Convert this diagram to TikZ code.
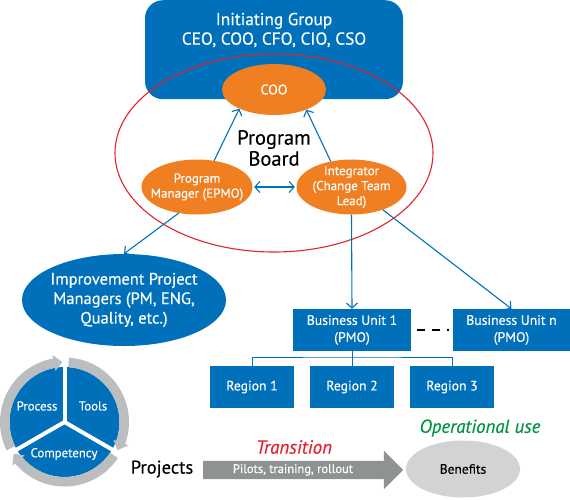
\documentclass[tikz,border=0pt]{standalone}
\usepackage{fontspec}
\setmainfont{PT Sans}[RawFeature={embolden=0.35}]
\usetikzlibrary{arrows.meta, shapes.geometric, shapes.arrows}
\definecolor{boxBlue}{RGB}{0,112,186}
\definecolor{ovalOrange}{RGB}{240,127,34}
\definecolor{boardRed}{RGB}{226,35,46}
\definecolor{ringGrey}{RGB}{187,189,191}
\definecolor{arrowGrey}{RGB}{142,146,147}
\definecolor{benefitGrey}{RGB}{209,211,212}
\definecolor{useGreen}{RGB}{0,148,68}
\tikzset{
    bluebox/.style={
        draw=none, fill=boxBlue, text=white, align=center, inner sep=0pt,
        font=\fontsize{13.7}{17}\selectfont
    },
    orangeoval/.style={
        ellipse, fill=ovalOrange, text=white, align=center, inner xsep=-12pt, inner ysep=-6pt,
        font=\fontsize{13}{15}\selectfont
    },
    biglabel/.style={align=center, text=black, font=\fontsize{20.5}{21}\selectfont},
    segment/.style={text=white, font=\fontsize{12.8}{14}\selectfont},
    flow/.style={-{Straight Barb[length=5pt,width=11pt]}, line width=1.1pt, draw=boxBlue},
    twoway/.style={{Straight Barb[length=5pt,width=11pt]}-{Straight Barb[length=5pt,width=11pt]}, line width=1.1pt, draw=boxBlue},
    tree/.style={line width=0.7pt, draw=boxBlue}
}
\begin{document}
\begin{tikzpicture}[x=1pt, y=-1pt]
      \useasboundingbox (0,0) rectangle (570,499);
      \node[bluebox, rounded corners=18pt, minimum width=258pt, minimum height=99pt, anchor=north] (IG) at (274,0) {};
      \node[text=white, align=center, font=\fontsize{17.3}{19.5}\selectfont] (IGtext) at (274,30) {Initiating Group\\CEO, COO, CFO, CIO, CSO};
      \node[ellipse, draw=boardRed, line width=1.1pt, minimum width=318pt, minimum height=198pt, inner sep=0pt] (PB) at (274,153) {};
      \node[orangeoval, minimum width=104pt, minimum height=51pt, font=\fontsize{14}{15}\selectfont] (COO) at (274,89.5) {COO};
      \node[biglabel] (PBtext) at (274,148) {Program\\Board};
      \node[orangeoval, minimum width=111pt, minimum height=55pt] (PM) at (197,187) {Program\\Manager (EPMO)};
      \node[orangeoval, minimum width=110pt, minimum height=55pt] (INT) at (351.5,187) {Integrator\\(Change Team\\Lead)};
      \node[bluebox, ellipse, inner xsep=-6pt, inner ysep=-6pt, minimum width=204pt, minimum height=92pt, font=\fontsize{16.5}{19.5}\selectfont] (IPM) at (124,300) {Improvement Project\\Managers (PM, ENG,\\Quality, etc.)};
      \node[bluebox, minimum width=118pt, minimum height=42pt] (BU1) at (352,330) {Business Unit 1\\(PMO)};
      \node[bluebox, minimum width=117pt, minimum height=42pt] (BUn) at (511.5,330) {Business Unit n\\(PMO)};
      \node[bluebox, minimum width=84pt, minimum height=42pt] (R1) at (252,387) {Region 1};
      \node[bluebox, minimum width=84pt, minimum height=42pt] (R2) at (352,387) {Region 2};
      \node[bluebox, minimum width=84pt, minimum height=42pt] (R3) at (452,387) {Region 3};
      \draw[flow] (PM.57) -- (COO.209);
      \draw[flow] (INT.129) -- (COO.328);
      \draw[twoway, shorten <=1.5pt, shorten >=1.5pt] (PM.east) -- (INT.west);
      \draw[flow] (PM.235) -- (IPM.north);
      \draw[flow] (INT.south) -- (BU1.north);
      \draw[flow] (INT.324) -- (BUn.north);
      \draw[dash pattern=on 8pt off 7pt, line width=1.3pt, draw=black, shorten <=6pt, shorten >=4pt] (BU1.east) -- (BUn.west);
      \draw[tree] (BU1.south) -- (R2.north);
      \draw[tree] (R1.north) |- (BU1.south |- 0,357) -| (R3.north);
      % cycle
      \begin{scope}[shift={(64.5,422)}, y=1pt]
        \fill[boxBlue] (0,0) circle[radius=55];
        \foreach \ang in {90,210,330}
          \draw[white, line width=4pt] (0,0) -- (\ang:66);
        \foreach \ang in {0,-120,120}
          \fill[ringGrey, rotate=\ang] (206:64.5) arc[start angle=206, end angle=100, radius=64.5]
            -- (100:68) -- (92:60) -- (100:52) -- (100:55)
            arc[start angle=100, end angle=206, radius=55] -- cycle;
      \end{scope}
      \node[segment] (PR) at (37,406) {Process};
      \node[segment] (TL) at (93,406) {Tools};
      \node[segment] (CP) at (64,454) {Competency};
      \node[text=black, font=\fontsize{18.5}{19}\selectfont] (PJ) at (162,469) {Projects};
      \node[single arrow, fill=arrowGrey, text=white, inner sep=0pt, minimum width=38pt, minimum height=200pt,
            text height=12pt, text depth=6pt,
            single arrow head extend=10pt, single arrow head indent=0pt, font=\fontsize{12.5}{14}\selectfont] (TR) at (298.5,470) {Pilots, training, rollout\hspace*{11pt}};
      \node[ellipse, fill=benefitGrey, text=black, inner sep=0pt, minimum width=114pt, minimum height=57pt, font=\fontsize{13.5}{14}\selectfont] (BF) at (463,469) {Benefits};
      \node[text=boardRed, font=\itshape\fontsize{19}{19}\selectfont] (TT) at (294,447) {Transition};
      \node[text=useGreen, font=\itshape\fontsize{18.8}{19}\selectfont] (OU) at (480,428) {Operational use};
    \end{tikzpicture}
\end{document}
